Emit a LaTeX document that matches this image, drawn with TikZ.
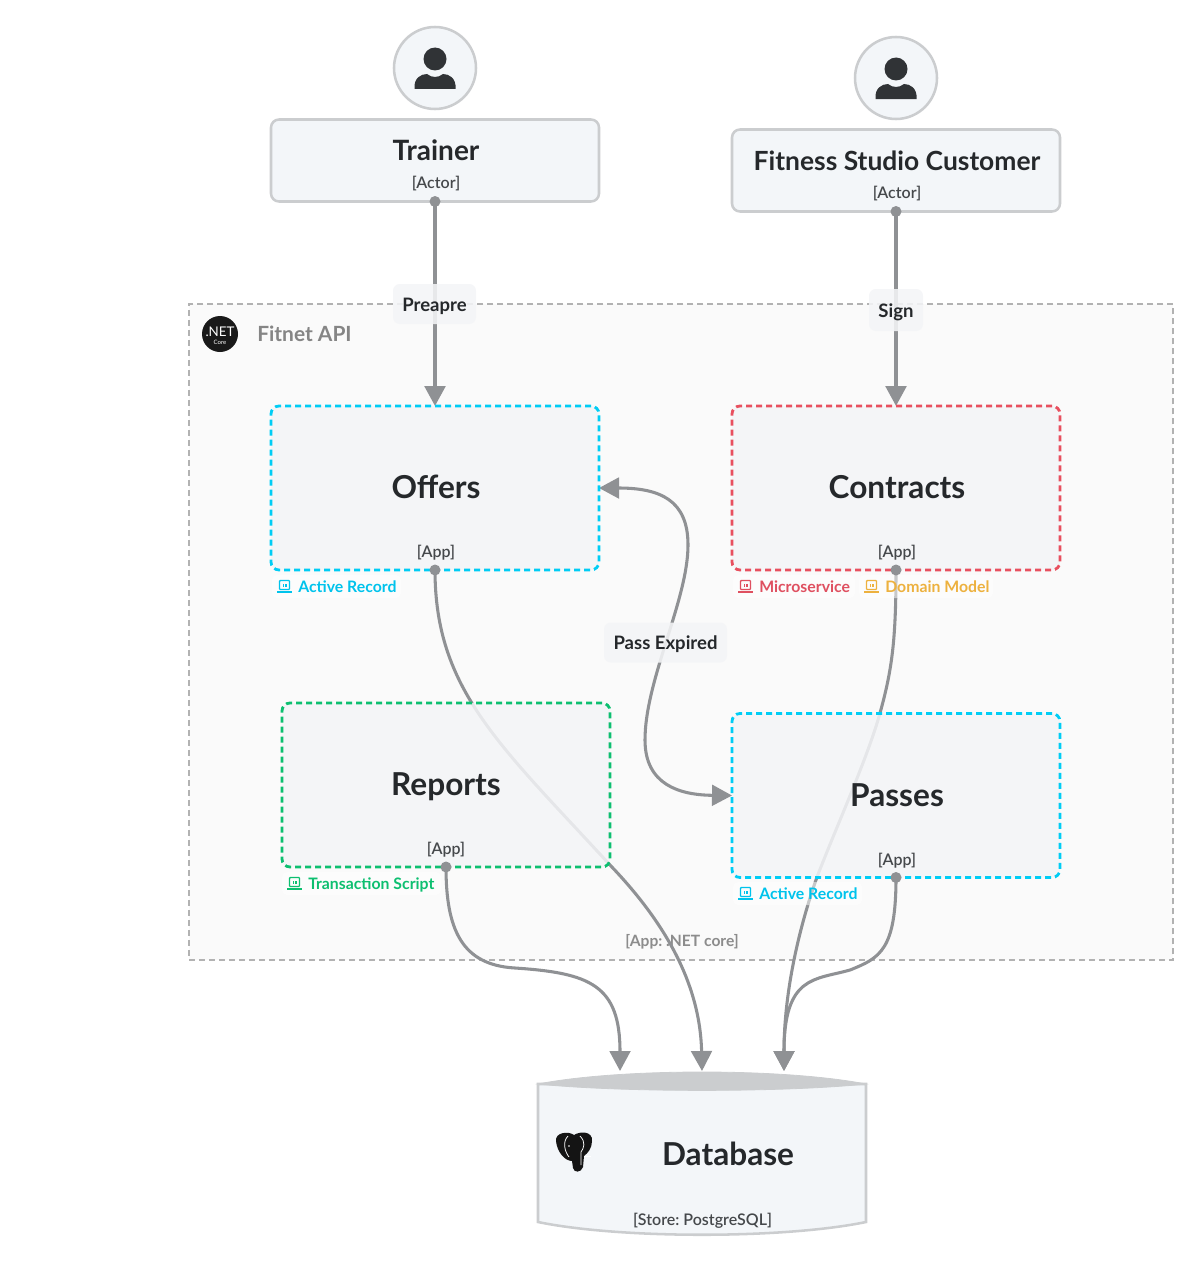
\documentclass[tikz,border=0pt]{standalone}
\usepackage{fontspec}
\setmainfont{Lato}
\newfontfamily\semib{Lato Semibold}
\usetikzlibrary{arrows.meta,backgrounds}
\pgfdeclarelayer{ctn}
\pgfdeclarelayer{edges}
\pgfsetlayers{ctn,edges,main}
\definecolor{ink}{HTML}{25282B}
\definecolor{sub}{HTML}{45484B}
\definecolor{edgeg}{HTML}{8F9194}
\definecolor{rim}{HTML}{CBCDCF}
\definecolor{pale}{HTML}{F3F6F9}
\definecolor{boxf}{HTML}{F4F5F7}
\definecolor{cya}{HTML}{00CDF5}
\definecolor{cyat}{HTML}{00C3EC}
\definecolor{redd}{HTML}{E8505F}
\definecolor{redt}{HTML}{DF5060}
\definecolor{grn}{HTML}{0DBF70}
\definecolor{amb}{HTML}{EDB13E}
\tikzset{
  x=.75pt,y=-.75pt,
  sz/.style 2 args={minimum width=#1*.75pt,minimum height=#2*.75pt,inner sep=0pt,outer sep=0pt},
  actor/.style={sz={328}{82},rounded corners=6pt,draw=rim,line width=1.9pt,fill=pale},
  head/.style={circle,sz={82}{82},draw=rim,line width=1.9pt,fill=pale},
  app/.style={sz={328}{164},rounded corners=6pt,dash pattern=on 4.5pt off 3pt,line width=2.1pt,fill=boxf,fill opacity=.86,text opacity=1},
  ttl/.style={font=\fontsize{21}{25}\selectfont\bfseries,text=ink,inner sep=0pt,anchor=base},
  big/.style={font=\fontsize{23.7}{29}\selectfont\bfseries,text=ink,inner sep=0pt,anchor=base},
  typ/.style={font=\fontsize{12}{14}\selectfont\semib,text=sub,inner sep=0pt,anchor=base},
  elab/.style={rounded corners=5pt,fill=boxf,fill opacity=.88},
  elabt/.style={font=\fontsize{13.9}{16}\selectfont\bfseries,text=ink,inner sep=0pt,anchor=base},
  tag/.style={font=\fontsize{11.85}{14}\selectfont\bfseries,anchor=base west,inner sep=0pt},
  conn/.style={draw=edgeg,line width=2.3pt},
  arr/.style={conn,-{Triangle[length=15pt,width=15.5pt,fill=edgeg]}},
  arrs/.style={arr,line width=2.7pt},
  dot/.style={circle,fill=edgeg,sz={11}{11}},
  person/.pic={
    \fill[ink!95] (0,0) circle[radius=11.5];
    \fill[ink!95] (-20.5,30) .. controls (-21.5,19) and (-14,15) .. (-8,15) .. controls (-3,19) and (3,19) .. (8,15) .. controls (14,15) and (21.5,19) .. (20.5,30) -- cycle;
  }
}
% x of text, baseline y, text width, colour, text, name
\newcommand{\tagg}[6]{%
  \fill[white,fill opacity=.5,rounded corners=4pt] (#1-26,#2-17) rectangle (#1+#3+5,#2+6);
  \draw[#4,line width=1pt,rounded corners=.6pt] (#1-18.5,#2-11.5) rectangle (#1-8.5,#2-2.5);
  \fill[#4] (#1-21,#2-1) rectangle (#1-6,#2+1);
  \fill[#4] (#1-15.5,#2-8.5) rectangle (#1-14.2,#2-5);
  \fill[#4] (#1-12.8,#2-8.5) rectangle (#1-11.5,#2-5);
  \node[tag,text=#4] (#6) at (#1,#2) {#5};
}
\AtBeginDocument{\frenchspacing}
\begin{document}
\begin{tikzpicture}
\useasboundingbox (0,0) rectangle (1200,1263);
% container
\begin{pgfonlayer}{ctn}
\node[sz={984}{656},draw=black!30,dash pattern=on 4.5pt off 3pt,line width=2.1pt,fill=black!2] (api) at (681,632) {};
\node[font=\fontsize{15.7}{19}\selectfont\bfseries,text=black!48!white,anchor=base west,inner sep=0pt] (apit) at (257,341.5) {Fitnet API};
\node[font=\fontsize{11.7}{14}\selectfont\bfseries,text=black!45!white,inner sep=0pt,anchor=base] (apic) at (682,946) {[App: .NET core]};
\end{pgfonlayer}
\node[circle,sz={36}{36},fill=black!90] (netlogo) at (220,334) {};
\node[font=\fontsize{10}{11}\selectfont,text=white,inner sep=0pt] (netname) at (220,331.5) {.NET};
\node[font=\fontsize{4.5}{5}\selectfont,text=white,inner sep=0pt] (netcore) at (220,342.5) {Core};
% actors
\node[head] (trainerh) at (435,68) {};
\pic at (435,59) {person};
\node[actor] (trainer) at (435,160.5) {};
\node[ttl] (trainert) at (436,160.5) {Trainer};
\node[typ] (trainers) at (436,188.5) {[Actor]};
\node[head] (custh) at (896,78) {};
\pic at (896,69) {person};
\node[actor] (cust) at (896,170.5) {};
\node[ttl,font=\fontsize{19.8}{25}\selectfont\bfseries] (custt) at (897,170) {Fitness Studio Customer};
\node[typ] (custs) at (897,198.5) {[Actor]};
% apps
\node[app,draw=cya] (offers) at (435,488) {};
\node[big] (offerst) at (436,498.5) {Offers};
\node[typ] (offerss) at (436,557.5) {[App]};
\node[app,draw=redd] (contracts) at (896,488) {};
\node[big] (contractst) at (897,498.5) {Contracts};
\node[typ] (contractss) at (897,557.5) {[App]};
\node[app,draw=grn] (reports) at (446,785) {};
\node[big] (reportst) at (446,795.5) {Reports};
\node[typ] (reportss) at (446,854.5) {[App]};
\node[app,draw=cya] (passes) at (896,795.5) {};
\node[big] (passest) at (897,806) {Passes};
\node[typ] (passess) at (897,865) {[App]};
% tags
\tagg{298}{592}{98}{cyat}{Active Record}{t1}
\tagg{759}{592}{91}{redt}{Microservice}{t2}
\tagg{885}{592}{103}{amb}{Domain Model}{t3}
\tagg{308}{889}{128}{grn}{Transaction Script}{t4}
\tagg{759}{899}{98}{cyat}{Active Record}{t5}
% database
\node[sz={328}{164}] (db) at (702,1153) {};
\path[fill=pale,draw=rim,line width=1.9pt] (538,1084) -- (538,1222) .. controls (620,1239) and (784,1239) .. (866,1222) -- (866,1084) -- cycle;
\path[fill=rim,draw=rim,line width=.6pt] (538,1084) .. controls (620,1068) and (784,1068) .. (866,1084) .. controls (784,1092.5) and (620,1092.5) .. (538,1084) -- cycle;
\node[big] (dbt) at (728,1165.5) {Database};
\node[typ] (dbs) at (702.5,1225.5) {[Store: PostgreSQL]};
% elephant
\fill[black!92] (556,1141) .. controls (555,1132) and (569,1131) .. (574,1135) .. controls (580,1131) and (593,1131) .. (592,1141) .. controls (592,1148) and (588,1153) .. (584,1156) -- (583,1167) .. controls (581,1173) and (574,1173) .. (573,1168) -- (572,1161) .. controls (565,1161) and (557,1152) .. (556,1141) -- cycle;
\draw[white,line width=.55pt] (568,1136) .. controls (562,1142) and (565,1152) .. (569,1157);
\draw[white,line width=.55pt] (580,1136) .. controls (586,1142) and (584,1148) .. (581,1152) -- (581,1165);
\draw[white,line width=.55pt] (584,1156) -- (591,1156);
\fill[white] (569,1146) circle[radius=.9];
% connectors
\begin{pgfonlayer}{edges}
\draw[arrs] (trainer.south) -- (offers.north);
\draw[arrs] (cust.south) -- (contracts.north);
\draw[arr,{Triangle[length=15pt,width=15.5pt,fill=edgeg]}-{Triangle[length=15pt,width=15.5pt,fill=edgeg]}] (offers.east) .. controls (660,488) and (688,500) .. (688,545) .. controls (688,600) and (645,680) .. (645,740) .. controls (645,785) and (680,795) .. (passes.west);
\draw[arr] (offers.south) .. controls (435,690) and (500,745) .. (610,865) .. controls (655,912) and (700,975) .. (db.north);
\draw[arr] (contracts.south) .. controls (896,640) and (892,670) .. (880,713) .. controls (868,757) and (835,830) .. (817,877) .. controls (800,925) and (784,990) .. ([xshift=61.5pt]db.north);
\draw[arr] (reports.south) .. controls (446,930) and (462,965) .. (515,968) .. controls (590,973) and (620,985) .. ([xshift=-61.5pt]db.north);
\draw[arr] (passes.south) .. controls (896,950) and (880,958) .. (850,970) .. controls (815,980) and (784,975) .. ([xshift=61.5pt]db.north);
\end{pgfonlayer}
\node[dot] (d1) at (trainer.south) {};
\node[dot] (d2) at (cust.south) {};
\node[dot] (d3) at (offers.south) {};
\node[dot] (d4) at (contracts.south) {};
\node[dot] (d5) at (reports.south) {};
\node[dot] (d6) at (passes.south) {};
% edge labels
\node[elab,sz={83}{40}] (l1) at (434.5,304) {};
\node[elabt] (l1t) at (434.5,311.5) {Preapre};
\node[elab,sz={54}{42}] (l2) at (896,310) {};
\node[elabt] (l2t) at (896,317) {Sign};
\node[elab,sz={123}{40}] (l3) at (665.5,642.5) {};
\node[elabt] (l3t) at (665.5,649.5) {Pass Expired};
\end{tikzpicture}
\end{document}
